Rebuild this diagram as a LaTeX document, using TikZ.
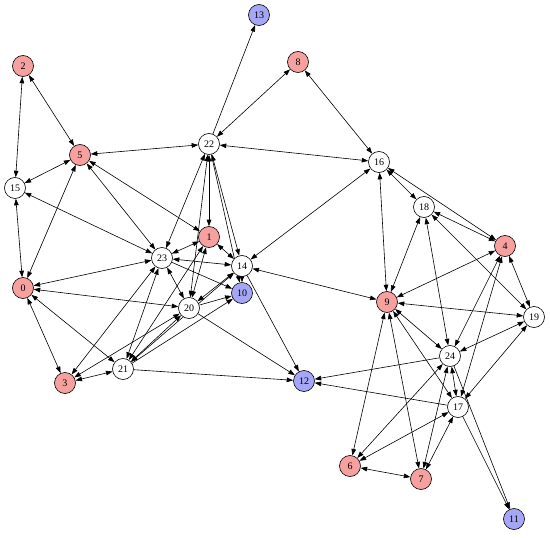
\documentclass[tikz,border=0pt]{standalone}
\usepackage{fontspec}
\setmainfont{Liberation Serif}
\usetikzlibrary{arrows.meta,backgrounds}
\definecolor{hubred}{RGB}{246,160,160}
\definecolor{sinkblue}{RGB}{166,166,246}

\begin{document}
\begin{tikzpicture}[x=1pt,y=-1pt,
  vtx/.style={circle,draw,line width=0.6pt,fill=white,minimum size=21pt,
              inner sep=0pt,font=\fontsize{10}{10}\selectfont},
  redvtx/.style={vtx,fill=hubred},
  bluevtx/.style={vtx,fill=sinkblue},
  tip/.tip={Triangle[length=6.5pt,width=4.6pt]},
  link/.style={line width=0.6pt,tip-tip},
  sinklink/.style={line width=0.6pt,-tip}]
 \useasboundingbox (0,0) rectangle (550,538);
 % vertices
 \foreach \n/\x/\y in {0/23/288,1/209/237,2/23/66,3/65/383,4/505/246,
                       5/80/155,6/350/466,7/421/479,8/298/62,9/387/302}
   \node[redvtx] (n\n) at (\x,\y) {\n};
 \foreach \n/\x/\y in {10/242/293,11/514/519,12/304/381,13/259/15}
   \node[bluevtx] (n\n) at (\x,\y) {\n};
 \foreach \n/\x/\y in {14/242/266,15/15/188,16/379/162,17/458/407,18/424/207,
                       19/534/317,20/189/308,21/123/369,22/209/144,23/162/258,
                       24/450/356}
   \node[vtx] (n\n) at (\x,\y) {\n};
 % edges
 \begin{scope}[on background layer]
 \foreach \a/\b in {2/5,2/15,5/15,5/22,5/1,5/23,5/0,15/23,15/0,8/22,8/16,
                    22/16,22/23,22/1,22/20,22/14,1/14,1/23,1/20,1/21,
                    23/14,23/20,23/0,23/3,23/21,14/16,14/9,14/20,14/21,
                    20/0,20/3,20/21,0/3,0/21,21/3,16/9,16/18,16/4,
                    18/9,18/4,18/19,18/24,4/9,4/19,4/24,4/17,
                    9/19,9/24,9/17,9/6,9/7,24/17,24/19,24/6,24/7,
                    17/19,17/6,17/7,6/7}
   \draw[link] (n\a) -- (n\b);
 \foreach \a/\b in {22/13,22/10,14/10,20/10,21/10,23/10,
                    14/12,20/12,21/12,24/12,17/12,24/11,17/11}
   \draw[sinklink] (n\a) -- (n\b);
 \end{scope}
\end{tikzpicture}
\end{document}
